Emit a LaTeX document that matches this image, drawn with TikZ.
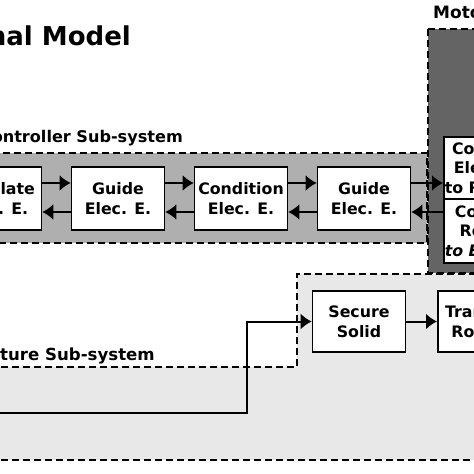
\documentclass[tikz,border=0pt]{standalone}
\usepackage{fontspec}
\setmainfont{DejaVu Sans}
\usetikzlibrary{math,arrows.meta}
\definecolor{ctrlgray}{RGB}{175,175,175}
\definecolor{motorgray}{RGB}{100,100,100}
\definecolor{structgray}{RGB}{232,232,232}
\newcommand{\blkfont}{\fontsize{15.8}{19.5}\selectfont\bfseries}
\tikzset{
  blk/.style={draw=black, fill=white, line width=1.6pt, minimum width=93pt, minimum height=63pt, inner sep=0pt, align=center, font=\blkfont},
  region/.style={draw=black, line width=2.4pt, dash pattern=on 7pt off 4pt},
  fwd/.style={line width=2pt, -{Latex[length=11pt,width=16pt]}},
  lbl/.style={inner sep=0pt, font=\bfseries}
}

\begin{document}
\begin{tikzpicture}[x=1pt,y=-1pt]
      \tikzmath{\row = 198.5; \dx = 123; \up = 15.5; \dn = 13.5;}
      \useasboundingbox (0,0) rectangle (474,474);
      \clip (0,0) rectangle (474,474);
      \path [fill=structgray] (-10,367) -- (297,367) -- (297,274) -- (490,274) -- (490,460) -- (-10,460) -- cycle;
      \draw [region] (-10,367) -- (297,367) -- (297,274) -- (490,274);
      \draw [region] (-10,460) -- (490,460);
      \path [region, fill=motorgray] (428,29) rectangle (490,273);
      \path [region, fill=ctrlgray] (-10,153) rectangle (427,243);
      \node[lbl, anchor=base east, font=\fontsize{26}{30}\selectfont\bfseries] (title) at (131,45) {Functional Model};
      \node[lbl, anchor=base west, font=\fontsize{17}{20}\selectfont\bfseries] (motorlbl) at (433,18) {Motor Sub-system};
      \node[lbl, anchor=base east, font=\fontsize{16.1}{19}\selectfont\bfseries] (ctrllbl) at (183,142) {Controller Sub-system};
      \node[lbl, anchor=base east, font=\fontsize{16.6}{20}\selectfont\bfseries] (structlbl) at (155,360) {Structure Sub-system};
      \node[blk] (reg) at (118-\dx,\row) {Regulate\\Elec. E.};
      \node[blk] (guide1) at (118,\row) {Guide\\Elec. E.};
      \node[blk] (cond) at (118+\dx,\row) {Condition\\Elec. E.};
      \node[blk] (guide2) at (118+2*\dx,\row) {Guide\\Elec. E.};
      \node[blk, anchor=west, minimum width=70pt, minimum height=62pt, inner xsep=1pt] (convEM) at (443,168) {Convert\\Elec. E.\\to Rot. E.};
      \node[blk, anchor=west, minimum width=70pt, minimum height=64pt, inner xsep=1pt] (convME) at (443,231) {Convert\\Rot. E.\\\textit{to Elec. E.}};
      \node[blk, minimum height=61pt] (secure) at (359,321.5) {Secure\\Solid};
      \node[blk, anchor=west, minimum width=88pt, minimum height=61pt] (transfer) at (437,321.5) {Transfer\\Rot. E.};
      \draw[fwd] ([yshift=\up pt]reg.east) -- ([yshift=\up pt]guide1.west);
      \draw[fwd] ([yshift=\up pt]guide1.east) -- ([yshift=\up pt]cond.west);
      \draw[fwd] ([yshift=\up pt]cond.east) -- ([yshift=\up pt]guide2.west);
      \draw[fwd] ([yshift=\up pt]guide2.east) -- ([yshift=-15pt]convEM.west);
      \draw[fwd] ([yshift=19pt]convME.west) -- ([yshift=-\dn pt]guide2.east);
      \draw[fwd] ([yshift=-\dn pt]guide2.west) -- ([yshift=-\dn pt]cond.east);
      \draw[fwd] ([yshift=-\dn pt]cond.west) -- ([yshift=-\dn pt]guide1.east);
      \draw[fwd] ([yshift=-\dn pt]guide1.west) -- ([yshift=-\dn pt]reg.east);
      \draw[fwd] (secure.east) -- (transfer.west);
      \coordinate (inp) at (-5,413);
      \draw[fwd] (inp) -| ([xshift=-65pt]secure.west) -- (secure.west);
    \end{tikzpicture}
\end{document}
